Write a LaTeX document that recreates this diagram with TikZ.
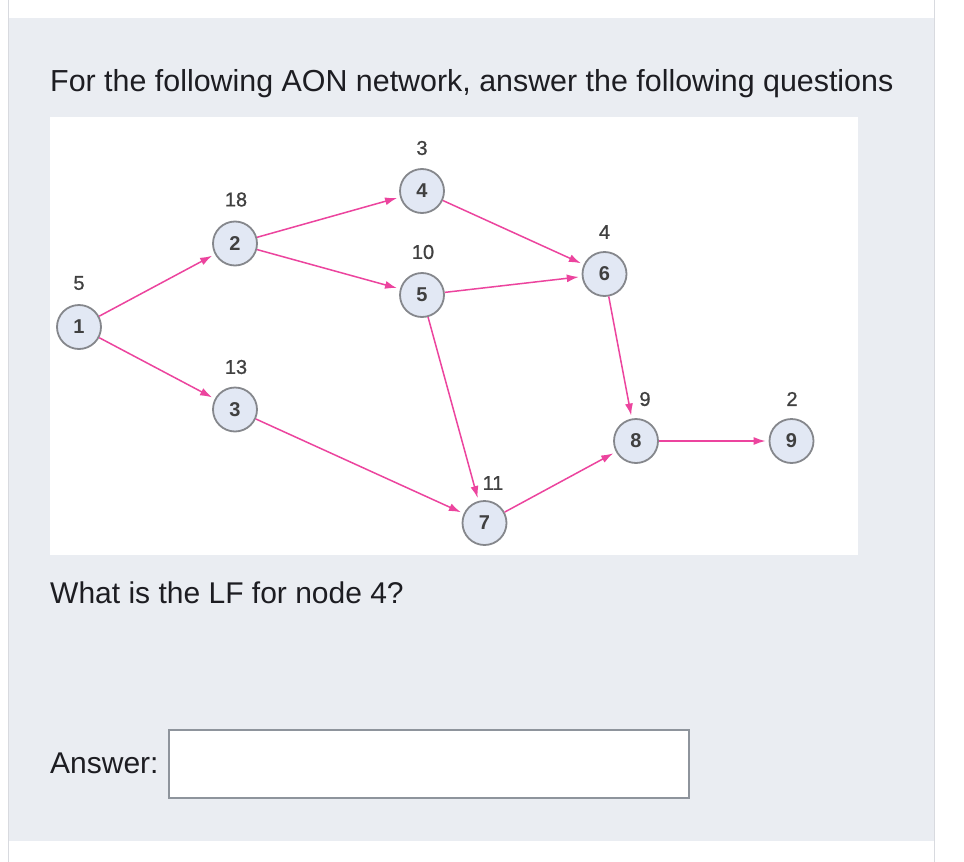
\documentclass[tikz,border=0pt]{standalone}
\usepackage{fontspec}
\setmainfont{Liberation Sans}
\newfontfamily\durfont[FakeBold=0.8]{Liberation Sans}
\usetikzlibrary{arrows.meta}
\definecolor{panel}{HTML}{EAEDF2}
\definecolor{cardline}{HTML}{D8DADF}
\definecolor{edgepink}{RGB}{236,68,158}
\definecolor{nodefill}{HTML}{E2E8F4}
\definecolor{nodeline}{HTML}{85878C}
\definecolor{numtext}{HTML}{404040}
\definecolor{qtext}{HTML}{1D1D22}
\definecolor{boxline}{HTML}{8E949C}
\begin{document}
\begin{tikzpicture}[x=1pt,y=-1pt,
  aon/.style={circle,draw=nodeline,fill=nodefill,line width=1.8pt,minimum size=44pt,inner sep=0pt,
    font=\fontsize{20}{20}\selectfont\bfseries,text=numtext},
  dur/.style={inner sep=0pt,font=\fontsize{20}{20}\selectfont\durfont,text=numtext},
  link/.style={draw=edgepink,line width=1.5pt,-{Latex[length=12pt,width=8pt]},shorten >=3pt},
  qtxt/.style={anchor=base west,inner sep=0pt,font=\fontsize{30}{30}\selectfont,text=qtext},
  ansfield/.style={draw=boxline,fill=white,line width=2pt,anchor=north west,inner sep=0pt,
    minimum width=520pt,minimum height=68pt}]
\useasboundingbox (0,0) rectangle (964,862);
\fill[white] (0,0) rectangle (964,862);
\fill[panel] (9,18) rectangle (934,841);
\draw[cardline,line width=1.5pt] (8.5,0) -- (8.5,862) (934.5,0) -- (934.5,862);

% question text
\node[qtxt,font=\fontsize{30.4}{30.4}\selectfont] (title) at (50,91) {For the following AON network, answer the following questions};
\node[qtxt] (question) at (50,603) {What is the LF for node 4?};
\node[qtxt] (answer) at (50,773) {Answer:};
\node[ansfield] (ansbox) at (168,729) {};

% diagram area
\fill[white] (50,117) rectangle (858,555);

% activity nodes
\node[aon] (n1) at (79,327) {1};
\node[aon] (n2) at (235,243.5) {2};
\node[aon] (n3) at (235,409.5) {3};
\node[aon] (n4) at (422,191) {4};
\node[aon] (n5) at (422,295) {5};
\node[aon] (n6) at (604.5,274) {6};
\node[aon] (n7) at (484.5,523) {7};
\node[aon] (n8) at (636,441) {8};
\node[aon] (n9) at (791.5,441) {9};

% durations
\node[dur] (d1) at (79,283) {5};
\node[dur] (d2) at (236,199.5) {18};
\node[dur] (d3) at (236,367) {13};
\node[dur] (d4) at (422,148) {3};
\node[dur] (d5) at (423,252) {10};
\node[dur] (d6) at (604.5,232) {4};
\node[dur] (d7) at (493,483) {11};
\node[dur] (d8) at (645,399) {9};
\node[dur] (d9) at (792,399) {2};

% precedence links
\draw[link] (n1) -- (n2);
\draw[link] (n1) -- (n3);
\draw[link] (n2) -- (n4);
\draw[link] (n2) -- (n5);
\draw[link] (n4) -- (n6);
\draw[link] (n5) -- (n6);
\draw[link] (n5) -- (n7);
\draw[link] (n3) -- (n7);
\draw[link] (n6) -- (n8);
\draw[link] (n7) -- (n8);
\draw[link] (n8) -- (n9);
\end{tikzpicture}
\end{document}
